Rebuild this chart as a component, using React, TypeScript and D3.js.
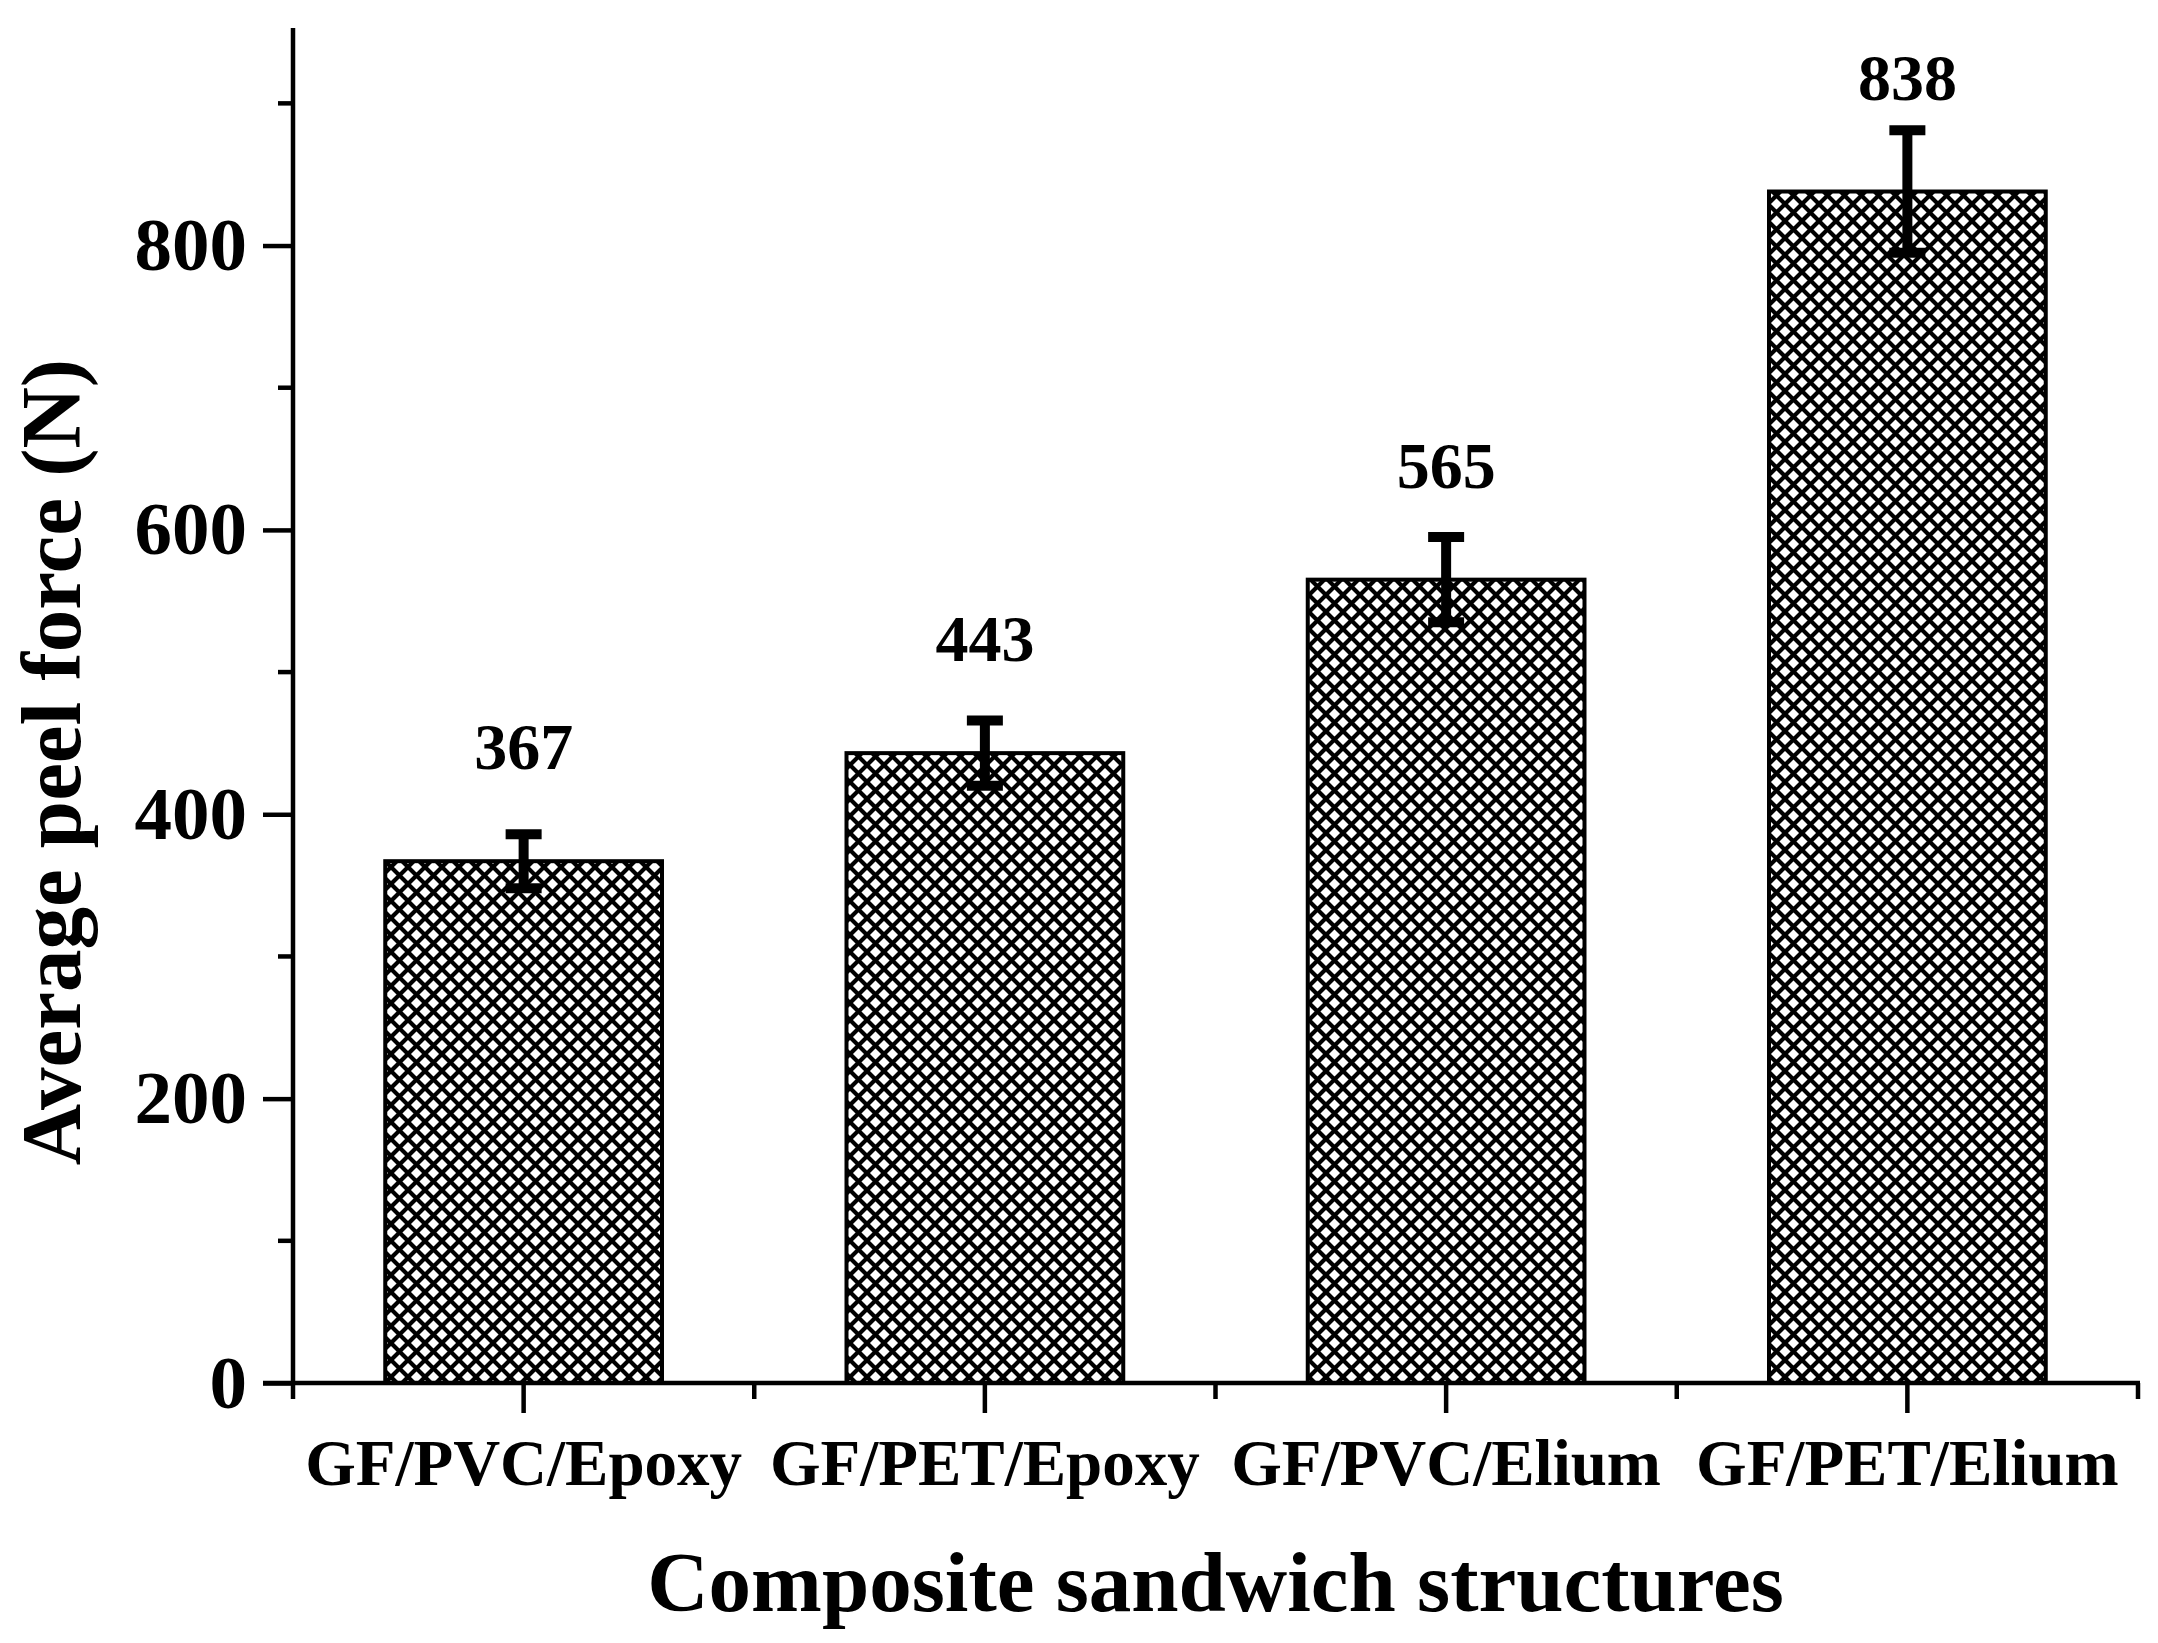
import React, { useEffect, useRef } from "react";
import * as d3 from "d3";

const categories = ["GF/PVC/Epoxy", "GF/PET/Epoxy", "GF/PVC/Elium", "GF/PET/Elium"];
const peelForce = [367, 443, 565, 838];
const peelError = [19, 23, 30, 43];
const majorTicks = [0, 200, 400, 600, 800];
const minorTicks = [100, 300, 500, 700, 900];

const App: React.FC = () => {
  const containerRef = useRef<HTMLDivElement | null>(null);

  useEffect(() => {
    const container = containerRef.current;
    if (!container) return;
    container.innerHTML = "";

    const width = 2158;
    const height = 1643;
    const margin = { top: 28, right: 20, bottom: 260, left: 293 };
    const font = "'Liberation Serif', 'Times New Roman', serif";

    const x = d3
      .scaleBand<string>()
      .domain(categories)
      .range([margin.left, width - margin.right])
      .paddingInner(0)
      .paddingOuter(0);

    const y = d3
      .scaleLinear()
      .domain([0, 953])
      .range([height - margin.bottom, margin.top]);

    const svg = d3
      .select(container)
      .append("svg")
      .attr("width", width)
      .attr("height", height)
      .style("display", "block")
      .style("background", "#fff")
      .style("font-family", font)
      .style("font-weight", "bold");

    // cross-hatch fill
    const tile = 17;
    const pattern = svg
      .append("defs")
      .append("pattern")
      .attr("id", "hatch")
      .attr("patternUnits", "userSpaceOnUse")
      .attr("width", tile)
      .attr("height", tile);
    pattern.append("rect").attr("width", tile).attr("height", tile).attr("fill", "#fff");
    const hatchPath = [-1, 0, 1]
      .map(
        (k) =>
          `M${-tile + k * tile},${-tile}L${2 * tile + k * tile},${2 * tile}` +
          `M${2 * tile + k * tile},${-tile}L${-tile + k * tile},${2 * tile}`
      )
      .join("");
    pattern
      .append("path")
      .attr("d", hatchPath)
      .attr("stroke", "#000")
      .attr("stroke-width", 4.2)
      .attr("fill", "none");

    const y0 = y(0);
    const barW = x.bandwidth() * 0.6;
    const cx = (c: string) => (x(c) ?? 0) + x.bandwidth() / 2;

    // bars
    svg
      .append("g")
      .selectAll("rect")
      .data(categories)
      .join("rect")
      .attr("x", (c) => cx(c) - barW / 2)
      .attr("y", (_, i) => y(peelForce[i]))
      .attr("width", barW)
      .attr("height", (_, i) => y0 - y(peelForce[i]))
      .attr("fill", "url(#hatch)")
      .attr("stroke", "#000")
      .attr("stroke-width", 4);

    // error bars
    const err = svg.append("g").attr("stroke", "#000").attr("stroke-width", 10);
    categories.forEach((c, i) => {
      const hi = y(peelForce[i] + peelError[i]);
      const lo = y(peelForce[i] - peelError[i]);
      err.append("line").attr("x1", cx(c)).attr("x2", cx(c)).attr("y1", hi).attr("y2", lo);
      err.append("line").attr("x1", cx(c) - 18).attr("x2", cx(c) + 18).attr("y1", hi).attr("y2", hi);
      err.append("line").attr("x1", cx(c) - 18).attr("x2", cx(c) + 18).attr("y1", lo).attr("y2", lo);
    });

    // value labels
    svg
      .append("g")
      .selectAll("text")
      .data(categories)
      .join("text")
      .attr("x", (c) => cx(c))
      .attr("y", (_, i) => y(peelForce[i]) - 92)
      .attr("text-anchor", "middle")
      .attr("font-size", 66)
      .text((_, i) => String(peelForce[i]));

    // y axis
    const yAxis = svg.append("g").attr("transform", `translate(${margin.left},0)`);
    yAxis
      .call(
        d3
          .axisLeft(y)
          .tickValues(majorTicks)
          .tickSize(30)
          .tickPadding(16)
          .tickFormat((d) => String(d))
      )
      .call((g) => g.select(".domain").remove())
      .call((g) =>
        g.selectAll("text").attr("font-size", 75).attr("font-family", font).attr("fill", "#000")
      )
      .call((g) => g.selectAll("line").attr("stroke-width", 4.5));
    yAxis
      .selectAll(".minor")
      .data(minorTicks)
      .join("line")
      .attr("class", "minor")
      .attr("x1", -15)
      .attr("x2", 0)
      .attr("y1", (d) => y(d))
      .attr("y2", (d) => y(d))
      .attr("stroke", "#000")
      .attr("stroke-width", 4.5);
    yAxis
      .append("line")
      .attr("x1", 0)
      .attr("x2", 0)
      .attr("y1", margin.top)
      .attr("y2", y0)
      .attr("stroke", "#000")
      .attr("stroke-width", 4.5);

    // x axis
    const xAxis = svg.append("g").attr("transform", `translate(0,${y0})`);
    xAxis
      .call(d3.axisBottom(x).tickSize(30).tickPadding(26))
      .call((g) => g.select(".domain").remove())
      .call((g) =>
        g.selectAll("text").attr("font-size", 65).attr("font-family", font).attr("fill", "#000")
      )
      .call((g) => g.selectAll("line").attr("stroke-width", 4.5));
    const edges = categories.map((c) => x(c) ?? 0).concat([x.range()[1]]);
    xAxis
      .selectAll(".minor")
      .data(edges)
      .join("line")
      .attr("class", "minor")
      .attr("x1", (d) => d)
      .attr("x2", (d) => d)
      .attr("y1", 0)
      .attr("y2", 16)
      .attr("stroke", "#000")
      .attr("stroke-width", 4.5);
    xAxis
      .append("line")
      .attr("x1", margin.left - 30)
      .attr("x2", x.range()[1] + 2)
      .attr("y1", 0)
      .attr("y2", 0)
      .attr("stroke", "#000")
      .attr("stroke-width", 4.5);

    // axis titles
    svg
      .append("text")
      .attr("x", (margin.left + x.range()[1]) / 2)
      .attr("y", 1611)
      .attr("text-anchor", "middle")
      .attr("font-size", 85)
      .text("Composite sandwich structures");

    svg
      .append("text")
      .attr("transform", `translate(80,762) rotate(-90)`)
      .attr("text-anchor", "middle")
      .attr("font-size", 85)
      .text("Average peel force (N)");

    return () => {
      d3.select(container).selectAll("*").remove();
    };
  }, []);

  return (
    <div>
      <style>{"body{margin:0}"}</style>
      <div ref={containerRef} />
    </div>
  );
};

export default App;
